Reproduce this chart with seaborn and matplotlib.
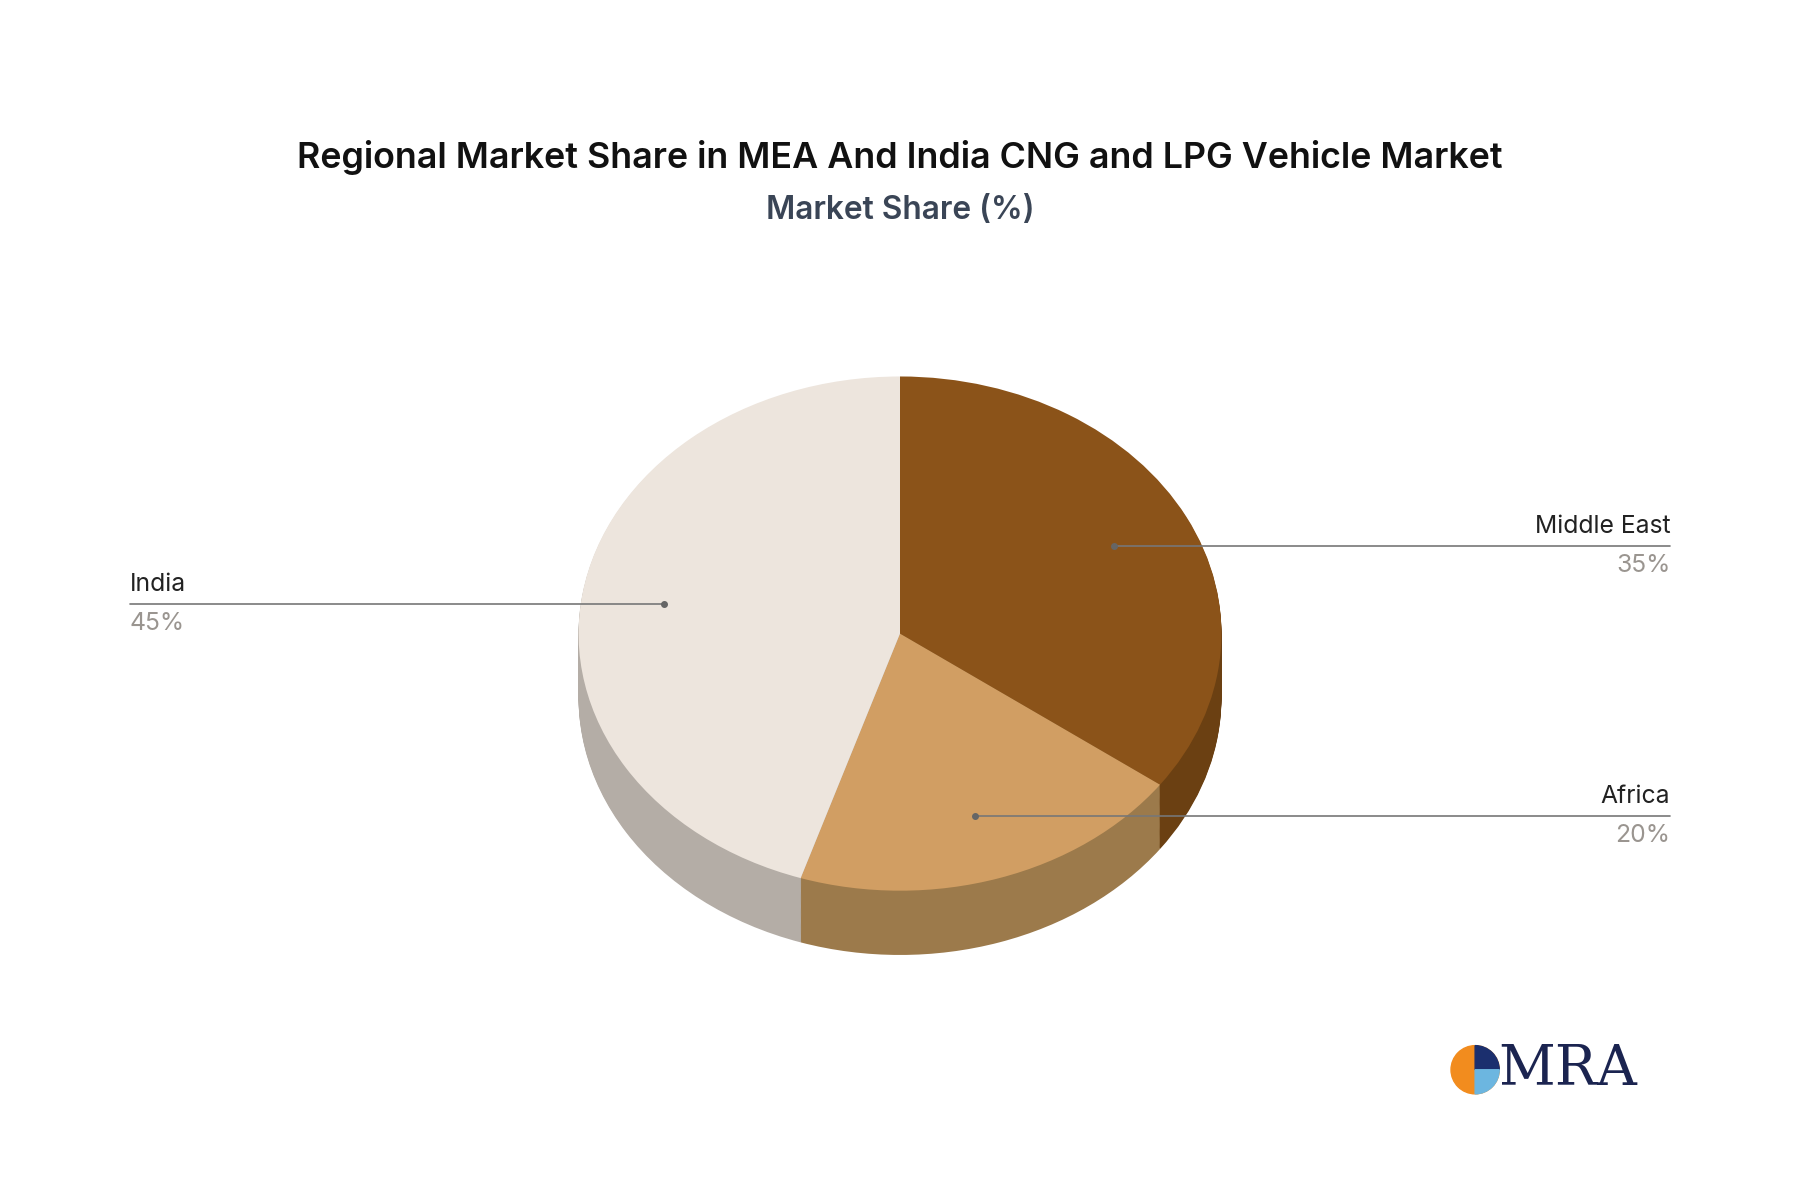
import matplotlib
matplotlib.use("Agg")
import matplotlib.pyplot as plt
import seaborn as sns
from matplotlib.patches import Wedge, Circle

sns.set_theme(style="white")
plt.rcParams['font.family'] = ['Inter', 'DejaVu Sans']

# data
regions = ["Middle East", "Africa", "India"]
shares = [35, 20, 45]
top_colors = ["#8B5319", "#D19E63", "#EDE5DD"]
side_colors = ["#6B4012", "#9C7A4B", "#B4ADA6"]

W, H = 1568, 1042  # reference pixel grid
fig = plt.figure(figsize=(18, 11.96), dpi=100)

# pie axes: ellipse centre (784,552), rx 280, ry 224, depth 56
cx, cy, rx, ry, depth = 784, 552, 280, 224, 56
ax = fig.add_axes([(cx - rx) / W, 1 - (cy + ry + depth) / H, 2 * rx / W, (2 * ry + depth) / H])
ax.set_axis_off()
d = depth / ry
n_layers = 60
for k in range(n_layers, 0, -1):
    ax.pie(shares, colors=side_colors, startangle=90, counterclock=False,
           center=(0, -d * k / n_layers), radius=1, wedgeprops=dict(linewidth=0))
ax.pie(shares, colors=top_colors, startangle=90, counterclock=False,
       center=(0, 0), radius=1, wedgeprops=dict(linewidth=0))
ax.set_xlim(-1, 1)
ax.set_ylim(-1 - d, 1)
ax.set_aspect('auto')

# overlay in reference pixel coordinates
ov = fig.add_axes([0, 0, 1, 1])
ov.set_xlim(0, W)
ov.set_ylim(H, 0)
ov.set_axis_off()
ov.patch.set_alpha(0)

ov.text(W / 2, 137, "Regional Market Share in MEA And India CNG and LPG Vehicle Market",
        ha="center", va="center", fontsize=25.8, fontweight="semibold", color="#111111")
ov.text(W / 2, 183, "Market Share (%)", ha="center", va="center",
        fontsize=22.8, fontweight="semibold", color="#3A4556")

# label callouts: (dot x, dot y, line end x, align)
callouts = [(970, 476, 1455, "right"), (849, 711, 1455, "right"), (578, 526, 113, "left")]
for (px, py, ex, al), name, val in zip(callouts, regions, shares):
    ov.plot([px, ex], [py, py], color="#777777", lw=1.2)
    ov.plot(px, py, "o", color="#666666", ms=4)
    ov.text(ex, py - 7, name, ha=al, va="bottom", fontsize=17.8, color="#222222")
    ov.text(ex, py + 7, f"{val}%", ha=al, va="top", fontsize=17.8, color="#9A9590")

# logo
ov.add_patch(Circle((1285, 932), 21, color="#F28C1E"))
ov.add_patch(Wedge((1285, 932), 21, -90, 0, color="#1B2F6E"))
ov.add_patch(Wedge((1285, 932), 21, 0, 90, color="#6CB6E0"))
ov.text(1305, 932, "MRA", ha="left", va="center", fontsize=40, family="DejaVu Serif",
        color="#1B2450")

fig.savefig("out.png", dpi=100)
